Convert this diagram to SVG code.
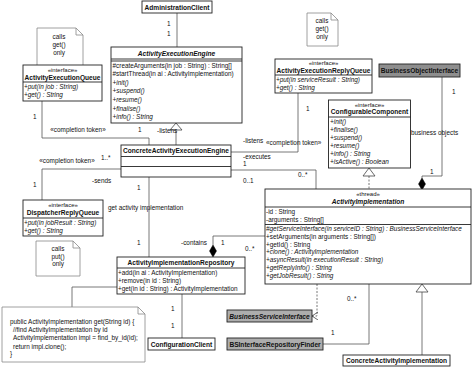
<svg xmlns="http://www.w3.org/2000/svg" width="474" height="367" viewBox="0 0 474 367">
<defs>
<style>
text{font-family:"Liberation Sans",Arial,sans-serif;font-size:6.4px;fill:#111}
.b{font-weight:bold;font-size:6.6px}
.i{font-style:italic}
.c{text-anchor:middle}
.s{font-size:6px}
.box{fill:#fff;stroke:#222;stroke-width:0.9}
.g1{fill:#8e8e8e;stroke:#222;stroke-width:0.9}
.g2{fill:#adadad;stroke:#222;stroke-width:0.9}
.dv{stroke:#222;stroke-width:0.9;fill:none}
.ln{fill:none;stroke:#555;stroke-width:0.8}
.dash{stroke-dasharray:2,1.5}
.tri{fill:#fff;stroke:#444;stroke-width:0.8}
.dia{fill:#000;stroke:#000;stroke-width:0.5}
.note{fill:#fff;stroke:#888;stroke-width:0.8}
</style>
<marker id="open" markerWidth="8" markerHeight="10" refX="6" refY="4" orient="auto" markerUnits="userSpaceOnUse">
<path d="M0,0 L6,4 L0,8" fill="none" stroke="#444" stroke-width="0.8"/>
</marker>
</defs>
<rect width="474" height="367" fill="#fff"/>

<g id="connectors">
<path class="ln" d="M177,13 V47"/>
<path class="ln" d="M176,130 V145"/>
<path class="tri" d="M176,123 L182,130 L170,130 Z"/>
<path class="ln" d="M42,101 V138 H149 V145"/>
<path class="ln" d="M231,152 H298 V93"/>
<path class="ln" d="M231,170 H316 V189"/>
<path class="ln" d="M121,169 H42 V200"/>
<path class="ln" d="M149,177 V257"/>
<path class="ln dash" d="M369,176 V189"/>
<path class="tri" d="M369,168 L375,176 L363,176 Z"/>
<path class="ln" d="M442,77 V176 H422 V178"/>
<path class="dia" d="M422,178 L425.5,184 L422,190 L418.5,184 Z"/>
<path class="ln" d="M265,236 H213 V245"/>
<path class="dia" d="M213,245 L216.5,251 L213,257 L209.5,251 Z"/>
<path class="ln" d="M117,287 H72 V307"/>
<path class="ln" d="M182,294 V338"/>
<path class="ln dash" d="M317,284 V316 H312" marker-end="url(#open)"/>
<path class="ln" d="M369,284 V344 H323"/>
<path class="ln" d="M422,292 V355"/>
<path class="tri" d="M422,284 L428,292 L416,292 Z"/>
<text x="167" y="26">1</text>
<text x="167" y="36">1</text>
<text x="33" y="119">1</text>
<text class="c" x="78" y="132">«completion token»</text>
<text x="138" y="132">1</text>
<text x="157" y="133">-listens</text>
<text x="243" y="143">-listens</text>
<text x="266" y="145">«completion token»</text>
<text x="306" y="111">1</text>
<text x="243" y="159">-executes</text>
<text x="243" y="166">1</text>
<text x="243" y="183">0..1</text>
<text x="298" y="177">0..*</text>
<text class="c" x="67" y="163">«completion token»</text>
<text x="101" y="160">1..*</text>
<text x="92" y="183">-sends</text>
<text x="33" y="187">1</text>
<text x="137" y="190">1</text>
<text x="108" y="210">get activity implementation</text>
<text x="137" y="245">1</text>
<text x="411" y="135">business objects</text>
<text x="452" y="94">1</text>
<text x="430" y="174">1</text>
<text x="181" y="245">-contains</text>
<text x="221" y="245">1</text>
<text x="245" y="251">0..*</text>
<text x="171" y="311">1</text>
<text x="171" y="328">1</text>
<text x="347" y="301">0..*</text>
<text x="331" y="335">1</text>
</g>

<g id="administrationClient">
<rect class="box" x="142" y="1" width="70" height="12"/>
<text class="b c" x="177" y="9.5">AdministrationClient</text>
</g>

<g id="noteGetOnly1">
<path class="note" d="M37,28 H76 L83,35 V67 H37 Z M76,28 V35 H83"/>
<text class="c" x="59" y="39">calls</text>
<text class="c" x="59" y="47">get()</text>
<text class="c" x="59" y="55">only</text>
</g>

<g id="noteGetOnly2">
<path class="note" d="M307,13 H331 L338,20 V46 H307 Z M331,13 V20 H338"/>
<text class="c" x="322" y="23">calls</text>
<text class="c" x="322" y="31">get()</text>
<text class="c" x="322" y="39">only</text>
</g>

<g id="activityExecutionQueue">
<rect class="box" x="23" y="65" width="79" height="36"/>
<text class="c s" x="62.5" y="71.5">«interface»</text>
<text class="b c" x="62.5" y="79.5">ActivityExecutionQueue</text>
<path class="dv" d="M23,82 H102"/>
<text class="i" x="24" y="89">+put(in job : String)</text>
<text class="i" x="24" y="97">+get() : String</text>
</g>

<g id="activityExecutionEngine">
<rect class="box" x="111" y="47" width="131" height="76"/>
<text class="b i c" x="176.5" y="55.5">ActivityExecutionEngine</text>
<path class="dv" d="M111,59 H242 M111,61 H242"/>
<text x="112.5" y="67.5">#createArguments(in job : String) : String[]</text>
<text x="112.5" y="76.1">#startThread(in ai : ActivityImplementation)</text>
<text class="i" x="112.5" y="84.7">+init()</text>
<text class="i" x="112.5" y="93.3">+suspend()</text>
<text class="i" x="112.5" y="101.9">+resume()</text>
<text class="i" x="112.5" y="110.5">+finalise()</text>
<text class="i" x="112.5" y="119.1">+info() : String</text>
</g>

<g id="activityExecutionReplyQueue">
<rect class="box" x="275" y="59" width="97" height="34"/>
<text class="c s" x="323.5" y="65">«interface»</text>
<text class="b c" x="323.5" y="72.5">ActivityExecutionReplyQueue</text>
<path class="dv" d="M275,75 H372"/>
<text class="i" x="276" y="82">+put(in serviceResult : String)</text>
<text class="i" x="276" y="90">+get() : String</text>
</g>

<g id="businessObjectInterface">
<rect class="g1" x="379" y="64" width="81" height="13"/>
<text class="b c" x="419.5" y="72.8">BusinessObjectInterface</text>
</g>

<g id="configurableComponent">
<rect class="box" x="328.5" y="100" width="82" height="68"/>
<text class="c s" x="369.5" y="106.5">«interface»</text>
<text class="b c" x="369.5" y="114">ConfigurableComponent</text>
<path class="dv" d="M328.5,117 H410.5"/>
<text class="i" x="330" y="124">+init()</text>
<text class="i" x="330" y="132">+finalise()</text>
<text class="i" x="330" y="140">+suspend()</text>
<text class="i" x="330" y="148">+resume()</text>
<text class="i" x="330" y="156">+info() : String</text>
<text class="i" x="330" y="164">+isActive() : Boolean</text>
</g>

<g id="concreteActivityExecutionEngine">
<rect class="box" x="121" y="145" width="110" height="32"/>
<text class="b c" x="176" y="153">ConcreteActivityExecutionEngine</text>
<path class="dv" d="M121,156.5 H231 M121,166.5 H231"/>
</g>

<g id="dispatcherReplyQueue">
<rect class="box" x="23" y="200" width="80" height="36"/>
<text class="c s" x="63" y="207">«interface»</text>
<text class="b c" x="63" y="215">DispatcherReplyQueue</text>
<path class="dv" d="M23,218 H103"/>
<text class="i" x="24" y="224.5">+put(in jobResult : String)</text>
<text class="i" x="24" y="232.5">+get() : String</text>
</g>

<g id="notePutOnly">
<path class="note" d="M36,241 H73 L80,248 V276 H36 Z M73,241 V248 H80"/>
<text class="c" x="58" y="251">calls</text>
<text class="c" x="58" y="258.5">put()</text>
<text class="c" x="58" y="266">only</text>
</g>

<g id="activityImplementation">
<rect class="box" x="265" y="189" width="206" height="95"/>
<text class="c s" x="368" y="196">«thread»</text>
<text class="b i c" x="368" y="203.5">ActivityImplementation</text>
<path class="dv" d="M265,207 H471"/>
<text x="266" y="214">-id : String</text>
<text x="266" y="221.5">-arguments : String[]</text>
<path class="dv" d="M265,224.5 H471"/>
<text class="i" x="266" y="231">#getServiceInterface(in serviceID : String) : BusinessServiceInterface</text>
<text x="266" y="238.8">+setArguments(in arguments : String[])</text>
<text x="266" y="246.6">+getId() : String</text>
<text class="i" x="266" y="254.4">+clone() : ActivityImplementation</text>
<text class="i" x="266" y="262.2">+asyncResult(in executionResult : String)</text>
<text class="i" x="266" y="270">+getReplyInfo() : String</text>
<text class="i" x="266" y="277.8">+getJobResult() : String</text>
</g>

<g id="activityImplementationRepository">
<rect class="box" x="117" y="257" width="128" height="37"/>
<text class="b c" x="181" y="265">ActivityImplementationRepository</text>
<path class="dv" d="M117,268 H245"/>
<text x="118" y="275">+add(in ai : ActivityImplementation)</text>
<text x="118" y="283">+remove(in id : String)</text>
<text x="118" y="291">+get(in id : String) : ActivityImplementation</text>
</g>

<g id="codeNote">
<path class="note" d="M2,307 H138 L145,314 V362 H2 Z M138,307 V314 H145"/>
<text x="10" y="324">public ActivityImplementation get(String id) {</text>
<text x="13" y="332">//find ActivityImplementation by id</text>
<text x="13" y="340">ActivityImplementation impl = find_by_id(id);</text>
<text x="13" y="348.5">return impl.clone();</text>
<text x="10" y="356">}</text>
</g>

<g id="configurationClient">
<rect class="box" x="148" y="338" width="67" height="12"/>
<text class="b c" x="181.5" y="346.5">ConfigurationClient</text>
</g>

<g id="businessServiceInterface">
<rect class="g2" x="227" y="310" width="85" height="12"/>
<text class="b i c" x="269.5" y="318.5">BusinessServiceInterface</text>
</g>

<g id="bsInterfaceRepositoryFinder">
<rect class="g2" x="227" y="338" width="96" height="12"/>
<text class="b c" x="275" y="346.5">BSInterfaceRepositoryFinder</text>
</g>

<g id="concreteActivityImplementation">
<rect class="box" x="343" y="355" width="107" height="11"/>
<text class="b c" x="396.5" y="363">ConcreteActivityImplementation</text>
</g>
</svg>
